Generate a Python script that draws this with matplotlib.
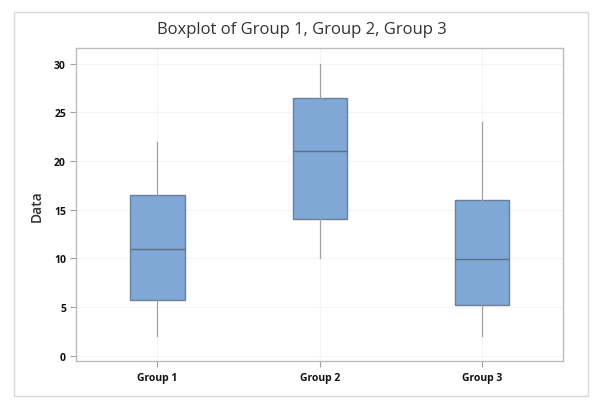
import matplotlib
matplotlib.use("Agg")
import matplotlib.pyplot as plt
from matplotlib.patches import Rectangle

groups = ["Group 1", "Group 2", "Group 3"]
whislo = [2, 10, 2]
q1 = [5.7, 14, 5.2]
med = [11, 21, 9.9]
q3 = [16.5, 26.5, 16]
whishi = [22, 30, 24]
yticks = [0, 5, 10, 15, 20, 25, 30]

plt.rcParams['font.family'] = ['Open Sans', 'DejaVu Sans']

fig = plt.figure(figsize=(5.99, 4.02), dpi=100)
fig.patch.set_facecolor('white')
fig.add_artist(Rectangle((0.0234, 0.0117), 0.9588, 0.955, transform=fig.transFigure,
                         fill=False, edgecolor='#d9d9d9', linewidth=1.0))

ax = fig.add_axes([0.1274, 0.0988, 0.8130, 0.7786])
stats = [dict(label=g, whislo=a, q1=b, med=c, q3=d, whishi=e, fliers=[])
         for g, a, b, c, d, e in zip(groups, whislo, q1, med, q3, whishi)]
positions = list(range(1, len(groups) + 1))
ax.bxp(stats, positions=positions, widths=0.333, patch_artist=True, showcaps=False,
       boxprops=dict(facecolor='#7fa8d7', edgecolor='#6d7f96', linewidth=1.0),
       medianprops=dict(color='#5f6f82', linewidth=1.0),
       whiskerprops=dict(color='#a0a0a0', linewidth=0.9), zorder=3)

ax.set_xlim(0.5, 3.5)
ax.set_ylim(-0.58, 31.6)
ax.set_yticks(yticks)
ax.set_xticks(positions)
ax.set_xticklabels(groups)
ax.grid(True, color='#f4f4f4', linewidth=0.8, zorder=0)
ax.set_axisbelow(True)
for s in ax.spines.values():
    s.set_color('#bdbdbd')
    s.set_linewidth(1.0)
ax.tick_params(axis='both', colors='#a0a0a0', length=4, width=0.8, labelsize=7.5,
               labelcolor='#111111')
for lbl in ax.get_xticklabels() + ax.get_yticklabels():
    lbl.set_fontweight('bold')
ax.set_ylabel('Data', fontsize=10, fontweight='semibold', color='#333333', labelpad=7)

fig.text(0.504, 0.925, 'Boxplot of Group 1, Group 2, Group 3', ha='center', va='center',
         fontsize=12, fontweight='medium', color='#333333')

fig.savefig('out.png', dpi=100)
